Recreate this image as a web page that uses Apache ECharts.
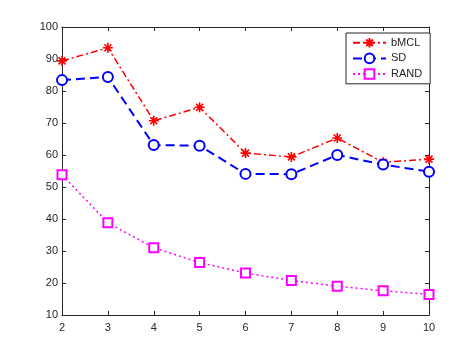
<!DOCTYPE html>
<html>
<head>
<meta charset="utf-8">
<title>bMCL vs SD vs RAND</title>
<script src="https://cdn.jsdelivr.net/npm/echarts@6/dist/echarts.min.js"></script>
<style>
  html, body { margin: 0; padding: 0; background: #fff; }
  #chart { width: 474px; height: 354px; }
</style>
</head>
<body>
<div id="chart"></div>
<script>
    // values
    var xs = [2, 3, 4, 5, 6, 7, 8, 9, 10];
    var bmcl = [89.4, 93.5, 70.7, 74.9, 60.6, 59.4, 65.3, 57.7, 58.7];
    var sd = [83.4, 84.4, 63.1, 62.9, 54.1, 54.0, 60.0, 57.0, 54.8];
    var rand = [53.8, 38.8, 31.0, 26.4, 23.1, 20.8, 19.0, 17.6, 16.4];
    var yTicks = [10, 20, 30, 40, 50, 60, 70, 80, 90, 100];

    function pairs(ys) {
        return xs.map(function (x, i) { return [x, ys[i]]; });
    }

    var star = 'path://M0,-1L0,1M-1,0L1,0M-0.7,-0.7L0.7,0.7M-0.7,0.7L0.7,-0.7';
    var axisColor = '#262626';
    var font = 'Liberation Sans, Arial, sans-serif';

    var chart = echarts.init(document.querySelector('#chart'));

    var boxAxis = {
        axisLine: { show: true, lineStyle: { color: axisColor, width: 1 } },
        axisTick: { show: true, inside: true, length: 4, lineStyle: { color: axisColor } },
        splitLine: { show: false }
    };

    chart.setOption({
        animation: false,
        grid: { left: 62, top: 27, right: 45, bottom: 39 },
        xAxis: [
            Object.assign({
                type: 'value', min: 2, max: 10, interval: 1, position: 'bottom',
                axisLabel: { color: axisColor, fontSize: 11, fontFamily: font, margin: 7 }
            }, boxAxis),
            Object.assign({
                type: 'value', min: 2, max: 10, interval: 1, position: 'top',
                axisLabel: { show: false }
            }, boxAxis)
        ],
        yAxis: [
            Object.assign({
                type: 'value', min: yTicks[0], max: yTicks[yTicks.length - 1], interval: 10, position: 'left',
                axisLabel: { color: axisColor, fontSize: 11, fontFamily: font, margin: 4 }
            }, boxAxis),
            Object.assign({
                type: 'value', min: yTicks[0], max: yTicks[yTicks.length - 1], interval: 10, position: 'right',
                axisLabel: { show: false }
            }, boxAxis)
        ],
        legend: {
            orient: 'vertical',
            left: 346,
            top: 33,
            padding: [4, 8, 4, 6],
            itemGap: 4,
            itemWidth: 33,
            itemHeight: 12,
            borderColor: axisColor,
            borderWidth: 1,
            backgroundColor: '#fff',
            textStyle: { color: axisColor, fontSize: 11, fontFamily: font },
            data: ['bMCL', 'SD', 'RAND']
        },
        series: [
            {
                name: 'bMCL',
                type: 'line',
                data: pairs(bmcl),
                symbol: star,
                symbolSize: 10,
                lineStyle: { color: '#ff0000', width: 1.5, type: [7, 3, 2, 3] },
                itemStyle: { color: '#ff0000', borderColor: '#ff0000', borderWidth: 1.6 }
            },
            {
                name: 'SD',
                type: 'line',
                data: pairs(sd),
                symbol: 'emptyCircle',
                symbolSize: 10,
                lineStyle: { color: '#0000ff', width: 2, type: [9, 5] },
                itemStyle: { color: '#0000ff', borderWidth: 1.5 }
            },
            {
                name: 'RAND',
                type: 'line',
                data: pairs(rand),
                symbol: 'emptyRect',
                symbolSize: 9,
                lineStyle: { color: '#ff00ff', width: 1.5, type: [2, 3] },
                itemStyle: { color: '#ff00ff', borderWidth: 2 }
            }
        ]
    });
</script>
</body>
</html>
